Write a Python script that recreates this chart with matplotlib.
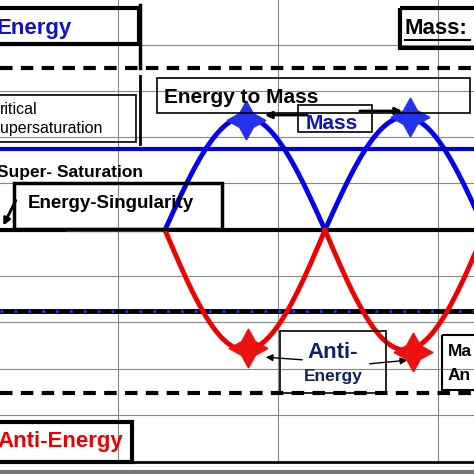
import numpy as np
import matplotlib.pyplot as plt
from matplotlib.patches import Rectangle

plt.rcParams['font.family'] = ['Liberation Sans', 'DejaVu Sans']

# arch data: (start_x, end_x, peak_y) in diagram units
blue_arches = [(165, 325, 117), (325, 485, 117)]
red_arches = [(165, 325, 350), (325, 485, 350)]
baseline_y = 230
red_flat = ([68, 165], [230, 230])
blue_stars = [(246, 120), (410, 117)]
red_stars = [(248, 348), (413, 352)]
grid_x = [118, 278, 438]
grid_y = [45, 91, 137, 183, 276, 322, 369, 415]

fig = plt.figure(figsize=(4.74, 4.74), dpi=100)
ax = fig.add_axes([0, 0, 1, 1])
ax.set_xlim(0, 474); ax.set_ylim(474, 0); ax.axis('off')

for gx in grid_x:
    ax.plot([gx, gx], [0, 462], color='#888888', lw=0.8, zorder=0)
for gy in grid_y:
    ax.plot([0, 474], [gy, gy], color='#888888', lw=0.8, zorder=0)

ax.plot([0, 474], [68, 68], color='black', lw=3, ls=(0, (3, 2)))
ax.plot([0, 474], [393, 393], color='black', lw=3, ls=(0, (3, 2)))
ax.plot([0, 474], [149, 149], color='#0000dd', lw=3)
ax.plot([0, 474], [baseline_y, baseline_y], color='black', lw=3)
ax.plot([0, 474], [311, 311], color='black', lw=3.5)
ax.plot([0, 474], [311, 311], color='#2233ff', lw=2, ls=(0, (1, 4)))
ax.plot([0, 474], [462, 462], color='black', lw=2)
ax.plot([0, 474], [472, 472], color='#777777', lw=3)

for s, e, p in blue_arches:
    t = np.linspace(0, 1, 100)
    ax.plot(s + (e - s) * t, baseline_y + (p - baseline_y) * np.sin(np.pi * t), color='#0000ee', lw=3.5, zorder=3)
for s, e, p in red_arches:
    t = np.linspace(0, 1, 100)
    ax.plot(s + (e - s) * t, baseline_y + (p - baseline_y) * np.sin(np.pi * t), color='#ee0000', lw=3.5, zorder=3)
ax.plot(*red_flat, color='#ee0000', lw=3, zorder=3)
for x, y in blue_stars:
    ax.plot(x, y, marker=(4, 1, 0), ms=28, color='#2233ee', zorder=4)
for x, y in red_stars:
    ax.plot(x, y, marker=(4, 1, 0), ms=28, color='#ee1111', zorder=4)

def box(x, y, w, h, lw=2.5):
    ax.add_patch(Rectangle((x, y), w, h, fill=False, ec='black', lw=lw, zorder=5))

box(-5, 8, 144, 36, 3); ax.text(-4, 28, 'Energy', color='#1111cc', fontsize=16, fontweight='bold', va='center', zorder=6)
ax.plot([140, 140], [5, 68], color='black', lw=2.5)
box(400, 8, 80, 40, 3); ax.text(405, 28, 'Mass:', color='black', fontsize=16, fontweight='bold', va='center', zorder=6)
ax.plot([405, 470], [40, 40], color='black', lw=1.5)
box(-5, 95, 141, 47, 1.2)
ax.text(0, 109, 'ritical', fontsize=11.5, va='center'); ax.text(0, 129, 'upersaturation', fontsize=11.5, va='center')
ax.plot([140, 140], [76, 144], color='black', lw=2)
box(157, 78, 313, 35, 1.2); ax.text(164, 97, 'Energy to Mass', fontsize=15, fontweight='bold', va='center', zorder=6)
box(298, 105, 74, 27, 1.2); ax.text(306, 123, 'Mass', color='#1111cc', fontsize=15, fontweight='bold', va='center', zorder=6)
ax.annotate('', xy=(262, 115), xytext=(310, 115), arrowprops=dict(arrowstyle='-|>', color='black', lw=2))
ax.annotate('', xy=(405, 111), xytext=(357, 111), arrowprops=dict(arrowstyle='-|>', color='black', lw=2))
ax.text(-3, 173, 'Super- Saturation', fontsize=12.5, fontweight='bold', va='center')
box(14, 183, 208, 46, 2.5); ax.text(28, 204, 'Energy-Singularity', fontsize=13.5, fontweight='bold', va='center', zorder=6)
ax.annotate('', xy=(2, 228), xytext=(17, 198), arrowprops=dict(arrowstyle='-|>', color='black', lw=2))
box(280, 331, 106, 62, 1.2)
ax.text(333, 352, 'Anti-', color='#112266', fontsize=16, fontweight='bold', ha='center', va='center', zorder=6)
ax.text(333, 376, 'Energy', color='#112266', fontsize=12.5, fontweight='bold', ha='center', va='center', zorder=6)
ax.annotate('', xy=(263, 357), xytext=(305, 360), arrowprops=dict(arrowstyle='-|>', color='black', lw=1))
ax.annotate('', xy=(410, 360), xytext=(367, 364), arrowprops=dict(arrowstyle='-|>', color='black', lw=1))
box(442, 335, 40, 55, 1.5)
ax.text(448, 351, 'Ma', fontsize=12.5, fontweight='bold', va='center'); ax.text(448, 375, 'An', fontsize=12.5, fontweight='bold', va='center')
box(-5, 422, 137, 40, 3); ax.text(-3, 442, 'Anti-Energy', color='#ee0000', fontsize=16, fontweight='bold', va='center', zorder=6)

fig.savefig('out.png', dpi=100)
